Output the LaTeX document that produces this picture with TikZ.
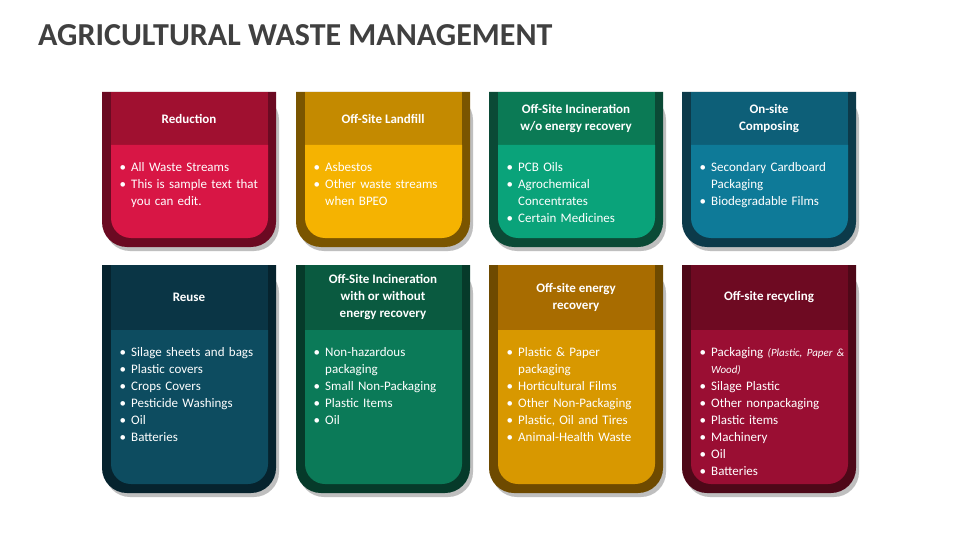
\documentclass[tikz,border=0pt]{standalone}
\usepackage{fontspec}
\setmainfont{Carlito}
\usepackage{enumitem}
\definecolor{tgray}{HTML}{404040}
\definecolor{aO}{HTML}{6B0A22}\definecolor{aH}{HTML}{A01030}\definecolor{aB}{HTML}{D81645}
\definecolor{bO}{HTML}{7A5500}\definecolor{bH}{HTML}{C48A00}\definecolor{bB}{HTML}{F5B301}
\definecolor{cO}{HTML}{0B4A36}\definecolor{cH}{HTML}{0B7A55}\definecolor{cB}{HTML}{0AA37A}
\definecolor{dO}{HTML}{0C3A4A}\definecolor{dH}{HTML}{0D5F78}\definecolor{dB}{HTML}{0E7A98}
\definecolor{eO}{HTML}{06232E}\definecolor{eH}{HTML}{0A3545}\definecolor{eB}{HTML}{0D4C60}
\definecolor{fO}{HTML}{063A2A}\definecolor{fH}{HTML}{0A5A40}\definecolor{fB}{HTML}{0B7A58}
\definecolor{gO}{HTML}{6E4A00}\definecolor{gH}{HTML}{A86C00}\definecolor{gB}{HTML}{D89800}
\definecolor{hO}{HTML}{4E0818}\definecolor{hH}{HTML}{6E0A22}\definecolor{hB}{HTML}{9A0E33}
\tikzset{
 hdrtext/.style={text=white,font=\fontsize{13}{17}\selectfont\bfseries,align=center},
 bodytext/.style={text=white,font=\fontsize{13}{17}\selectfont,text width=150pt,anchor=north west,inner sep=0pt},
}
\newcommand{\mycard}[9]{% name,x,y,h,hh,prefix,title,items
 \fill[black!25,rounded corners=25pt] (#2+3,#3+3) -- (#2+177,#3+3) -- (#2+177,#3+#4+4) -- (#2+3,#3+#4+4) -- cycle;
 \fill[#6O] (#2,#3) -- (#2+174,#3) [rounded corners=25pt] -- (#2+174,#3+#4) -- (#2,#3+#4) [sharp corners] -- cycle;
 \fill[#6H] (#2+9,#3) rectangle (#2+166,#3+#5);
 \fill[#6B] (#2+9,#3+#5) -- (#2+166,#3+#5) [rounded corners=20pt] -- (#2+166,#3+#4-9) -- (#2+9,#3+#4-9) [sharp corners] -- cycle;
 \node[hdrtext] (#1h) at (#2+87,#3+#5/2) {#7};
 \node[bodytext] (#1b) at (#2+15,#3+#5+9) {\begin{itemize}[leftmargin=14pt,nosep,label=\textbullet]#8\end{itemize}};
}
\begin{document}
\begin{tikzpicture}[x=1pt,y=-1pt]
\fill[white] (0,0) rectangle (960,540);
\useasboundingbox (0,0) rectangle (960,540);
\node[anchor=west,text=tgray,font=\fontsize{32}{36}\selectfont\bfseries,inner sep=0pt] (title) at (38,35) {AGRICULTURAL WASTE MANAGEMENT};
\mycard{r}{102}{92}{155}{53}{a}{Reduction}{\item All Waste Streams \item This is sample text that you can edit.}{}
\mycard{l}{296}{92}{155}{53}{b}{Off-Site Landfill}{\item Asbestos \item Other waste streams when BPEO}{}
\mycard{i}{489}{92}{155}{53}{c}{Off-Site Incineration\\w/o energy recovery}{\item PCB Oils \item Agrochemical Concentrates \item Certain Medicines}{}
\mycard{c}{682}{92}{155}{53}{d}{On-site\\Composing}{\item Secondary Cardboard Packaging \item Biodegradable Films}{}
\mycard{u}{102}{265}{228}{65}{e}{Reuse}{\item Silage sheets and bags \item Plastic covers \item Crops Covers \item Pesticide Washings \item Oil \item Batteries}{}
\mycard{w}{296}{265}{228}{65}{f}{Off-Site Incineration\\with or without\\energy recovery}{\item Non-hazardous packaging \item Small Non-Packaging \item Plastic Items \item Oil}{}
\mycard{e}{489}{265}{228}{65}{g}{Off-site energy\\recovery}{\item Plastic \& Paper packaging \item Horticultural Films \item Other Non-Packaging \item Plastic, Oil and Tires \item Animal-Health Waste}{}
\mycard{y}{682}{265}{228}{65}{h}{Off-site recycling}{\item Packaging {\fontsize{11}{13}\selectfont\itshape(Plastic, Paper \& Wood)} \item Silage Plastic \item Other nonpackaging \item Plastic items \item Machinery \item Oil \item Batteries}{}
\end{tikzpicture}
\end{document}
